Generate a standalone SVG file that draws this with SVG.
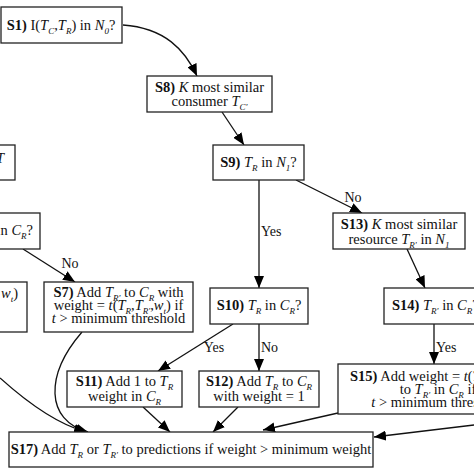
<svg xmlns="http://www.w3.org/2000/svg" width="474" height="474" viewBox="0 0 474 474">
<defs>
<marker id="ah" viewBox="0 0 12 10" refX="12" refY="5" markerWidth="12" markerHeight="10" markerUnits="userSpaceOnUse" orient="auto">
<path d="M0,0 L12,5 L0,10 Z" fill="#000"/>
</marker>
<style>
.box{fill:#fff;stroke:#222;stroke-width:1.3}
text{font-family:"Liberation Serif","DejaVu Serif",serif;font-size:14.5px;fill:#111}
.c{text-anchor:middle}
.e{text-anchor:end}
.b{font-weight:bold}
.i{font-style:italic}
.s{font-size:9px;font-style:italic}
.lbl{font-size:14px}
.con path{fill:none;stroke:#111;stroke-width:1.3;marker-end:url(#ah)}
</style>
</defs>
<rect width="474" height="474" fill="#fff"/>

<g class="con">
<path d="M123,25 C165,28 185,50 197,76"/>
<path d="M222,112 L244,145"/>
<path d="M259,180 L259,288"/>
<path d="M296,180 L362,213"/>
<path d="M407,249 L425,288"/>
<path d="M233,324 L158,371"/>
<path d="M259,324 L259,371"/>
<path d="M434,324 L434,364"/>
<path d="M23,249 L75,282"/>
<path d="M82,332 C45,375 45,420 88,432"/>
<path d="M0,378 C30,405 60,425 86,432"/>
<path d="M143,407 L170,432"/>
<path d="M238,407 L213,432"/>
<path d="M338,413 L263,430"/>
<path d="M474,425 L374,437"/>
</g>

<g id="labels">
<text class="lbl" x="261" y="236">Yes</text>
<text class="lbl c" x="353" y="202">No</text>
<text class="lbl" x="261" y="352">No</text>
<text class="lbl c" x="214" y="352">Yes</text>
<text class="lbl" x="436" y="352">Yes</text>
<text class="lbl c" x="70" y="268">No</text>
</g>

<g id="S1">
<rect class="box" x="1" y="7" width="121" height="36"/>
<text class="c" x="61" y="30"><tspan class="b">S1)</tspan> I(<tspan class="i">T</tspan><tspan class="s" baseline-shift="-4">C</tspan>,<tspan class="i">T</tspan><tspan class="s" baseline-shift="-4">R</tspan>) in <tspan class="i">N</tspan><tspan class="s" baseline-shift="-4">0</tspan>?</text>
</g>

<g id="S8">
<rect class="box" x="147" y="76" width="125" height="36"/>
<text class="c" x="209.5" y="92"><tspan class="b">S8)</tspan> <tspan class="i">K</tspan> most similar</text>
<text class="c" x="209.5" y="106">consumer <tspan class="i">T</tspan><tspan class="s" baseline-shift="-4">C'</tspan></text>
</g>

<g id="S9">
<rect class="box" x="213" y="145" width="91" height="35"/>
<text class="c" x="258.5" y="167"><tspan class="b">S9)</tspan> <tspan class="i">T</tspan><tspan class="s" baseline-shift="-4">R</tspan> in <tspan class="i">N</tspan><tspan class="s" baseline-shift="-4">1</tspan>?</text>
</g>

<g id="S13">
<rect class="box" x="333" y="213" width="132" height="36"/>
<text class="c" x="399" y="229"><tspan class="b">S13)</tspan> <tspan class="i">K</tspan> most similar</text>
<text class="c" x="399" y="244">resource <tspan class="i">T</tspan><tspan class="s" baseline-shift="-4">R'</tspan> in <tspan class="i">N</tspan><tspan class="s" baseline-shift="-4">1</tspan></text>
</g>

<g id="S14">
<rect class="box" x="384" y="288" width="110" height="36"/>
<text x="392" y="310"><tspan class="b">S14)</tspan> <tspan class="i">T</tspan><tspan class="s" baseline-shift="-4">R'</tspan> in <tspan class="i">C</tspan><tspan class="s" baseline-shift="-4">R</tspan>?</text>
</g>

<g id="S10">
<rect class="box" x="210" y="288" width="98" height="36"/>
<text class="c" x="259" y="310"><tspan class="b">S10)</tspan> <tspan class="i">T</tspan><tspan class="s" baseline-shift="-4">R</tspan> in <tspan class="i">C</tspan><tspan class="s" baseline-shift="-4">R</tspan>?</text>
</g>

<g id="S11">
<rect class="box" x="67" y="371" width="115" height="36"/>
<text class="c" x="124.5" y="386"><tspan class="b">S11)</tspan> Add 1 to <tspan class="i">T</tspan><tspan class="s" baseline-shift="-4">R</tspan></text>
<text class="c" x="124.5" y="401">weight in <tspan class="i">C</tspan><tspan class="s" baseline-shift="-4">R</tspan></text>
</g>

<g id="S12">
<rect class="box" x="199" y="371" width="120" height="36"/>
<text class="c" x="259" y="386"><tspan class="b">S12)</tspan> Add <tspan class="i">T</tspan><tspan class="s" baseline-shift="-4">R</tspan> to <tspan class="i">C</tspan><tspan class="s" baseline-shift="-4">R</tspan></text>
<text class="c" x="259" y="401">with weight = 1</text>
</g>

<g id="S15">
<rect class="box" x="338" y="364" width="200" height="50"/>
<text class="c" x="438" y="381"><tspan class="b">S15)</tspan> Add weight = <tspan class="i">t</tspan>(<tspan class="i">T</tspan><tspan class="s" baseline-shift="-4">R</tspan>,<tspan class="i">T</tspan><tspan class="s" baseline-shift="-4">R'</tspan>,<tspan class="i">w</tspan><tspan class="s" baseline-shift="-4">t</tspan>)</text>
<text class="c" x="438" y="394">to <tspan class="i">T</tspan><tspan class="s" baseline-shift="-4">R'</tspan> in <tspan class="i">C</tspan><tspan class="s" baseline-shift="-4">R</tspan> if</text>
<text class="c" x="438" y="407"><tspan class="i">t</tspan> &gt; minimum threshold</text>
</g>

<g id="S7">
<rect class="box" x="44" y="282" width="149" height="50"/>
<text class="c" x="118.5" y="297"><tspan class="b">S7)</tspan> Add <tspan class="i">T</tspan><tspan class="s" baseline-shift="-4">R'</tspan> to <tspan class="i">C</tspan><tspan class="s" baseline-shift="-4">R</tspan> with</text>
<text class="c" x="118.5" y="310">weight = <tspan class="i">t</tspan>(<tspan class="i">T</tspan><tspan class="s" baseline-shift="-4">R</tspan>,<tspan class="i">T</tspan><tspan class="s" baseline-shift="-4">R'</tspan>,<tspan class="i">w</tspan><tspan class="s" baseline-shift="-4">t</tspan>) if</text>
<text class="c" x="118.5" y="323"><tspan class="i">t</tspan> &gt; minimum threshold</text>
</g>

<g id="S17">
<rect class="box" x="9" y="432" width="364" height="35"/>
<text class="c" x="191" y="454"><tspan class="b">S17)</tspan> Add <tspan class="i">T</tspan><tspan class="s" baseline-shift="-4">R</tspan> or <tspan class="i">T</tspan><tspan class="s" baseline-shift="-4">R'</tspan> to predictions if weight &gt; minimum weight</text>
</g>

<g id="left-top">
<rect class="box" x="-80" y="145" width="95" height="35"/>
<text x="-4" y="163"><tspan class="i">T</tspan></text>
</g>

<g id="left-mid">
<rect class="box" x="-80" y="213" width="120" height="36"/>
<text class="e" x="33" y="235">in <tspan class="i">C</tspan><tspan class="s" baseline-shift="-4">R</tspan>?</text>
</g>

<g id="left-bottom">
<rect class="box" x="-100" y="282" width="127" height="50"/>
<text class="e" x="18" y="298"><tspan class="i">w</tspan><tspan class="s" baseline-shift="-4">t</tspan>)</text>
</g>
</svg>
